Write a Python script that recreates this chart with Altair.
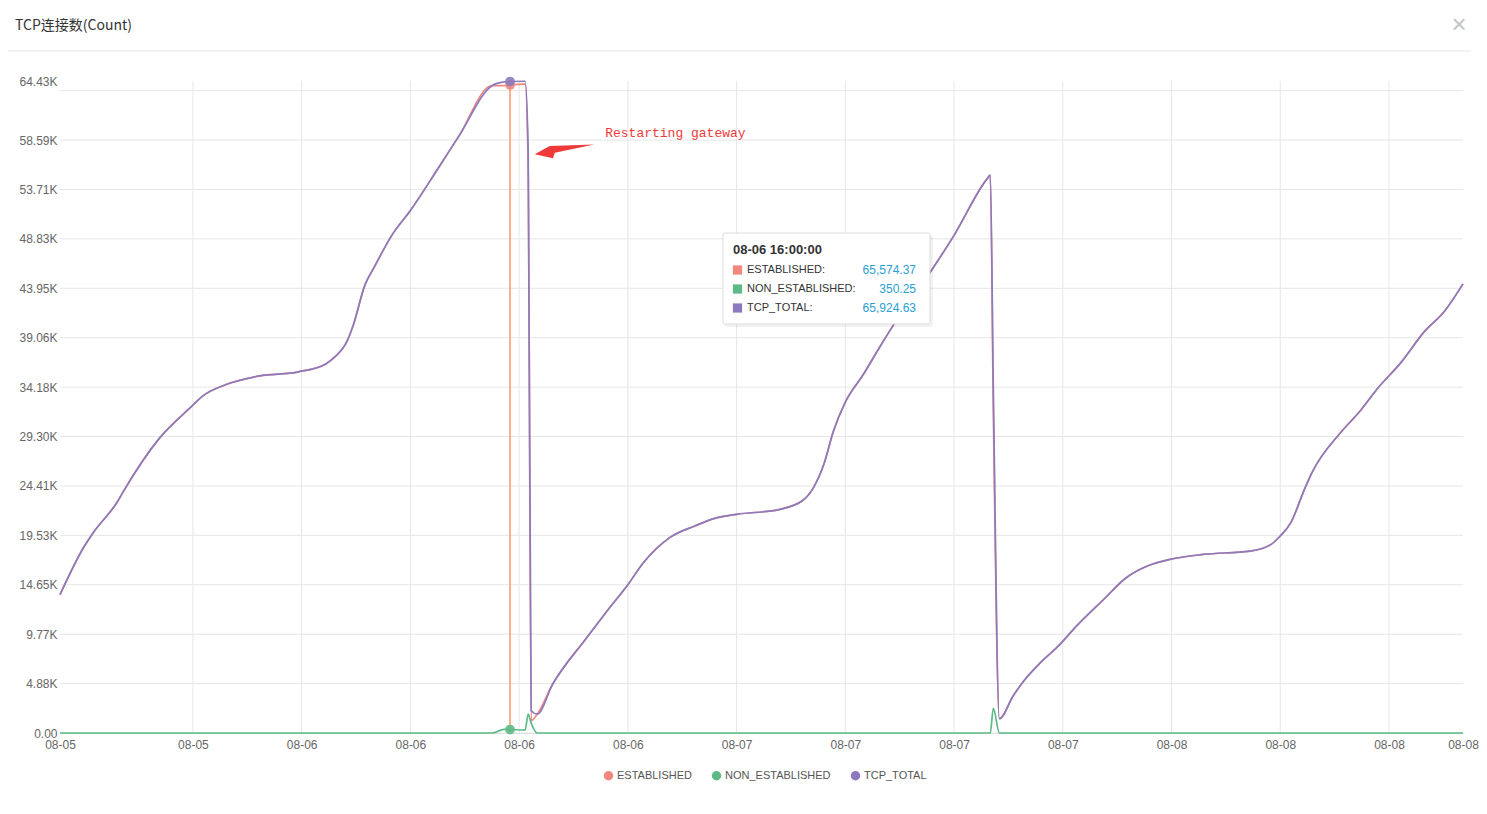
import altair as alt
import pandas as pd

# ---------------- data ----------------
times = [
    "2019-08-05 15:10", "2019-08-05 16:30", "2019-08-05 17:00", "2019-08-05 18:20",
    "2019-08-05 18:40", "2019-08-05 20:40", "2019-08-05 22:30", "2019-08-05 23:00",
    "2019-08-06 00:20", "2019-08-06 02:10", "2019-08-06 04:20", "2019-08-06 05:50",
    "2019-08-06 06:20", "2019-08-06 07:00", "2019-08-06 07:20", "2019-08-06 08:00",
    "2019-08-06 08:30", "2019-08-06 09:30", "2019-08-06 10:30", "2019-08-06 12:00",
    "2019-08-06 13:10", "2019-08-06 15:00", "2019-08-06 15:40", "2019-08-06 16:00",
    "2019-08-06 16:50", "2019-08-06 17:00", "2019-08-06 17:10", "2019-08-06 17:30",
    "2019-08-06 18:20", "2019-08-06 20:10", "2019-08-06 21:20", "2019-08-06 22:30",
    "2019-08-06 23:20",
    "2019-08-07 00:50", "2019-08-07 02:10", "2019-08-07 03:20", "2019-08-07 04:30",
    "2019-08-07 06:50", "2019-08-07 08:10", "2019-08-07 08:45", "2019-08-07 09:20",
    "2019-08-07 09:50", "2019-08-07 10:30", "2019-08-07 11:30", "2019-08-07 12:25",
    "2019-08-07 13:15", "2019-08-07 15:15", "2019-08-07 16:30", "2019-08-07 18:20",
    "2019-08-07 18:30", "2019-08-07 18:40", "2019-08-07 19:00", "2019-08-07 19:45",
    "2019-08-07 20:20", "2019-08-07 21:15", "2019-08-07 22:20", "2019-08-07 23:15",
    "2019-08-08 00:45", "2019-08-08 02:00", "2019-08-08 03:10", "2019-08-08 04:25",
    "2019-08-08 06:15", "2019-08-08 08:50", "2019-08-08 10:00", "2019-08-08 10:30",
    "2019-08-08 11:05", "2019-08-08 11:50", "2019-08-08 12:15", "2019-08-08 13:50",
    "2019-08-08 14:55", "2019-08-08 15:50", "2019-08-08 17:10", "2019-08-08 18:25",
    "2019-08-08 19:35", "2019-08-08 20:35",
]

tcp_total = [
    14000, 18870, 20270, 23400, 24450, 29860, 33170, 34040,
    35260, 36130, 36550, 37350, 38050, 39620, 41190, 45370,
    47120, 50430, 52870, 57050, 60370, 65500, 65880, 65924.63,
    65950, 59000, 2250, 1910, 4880, 9490, 12300, 15000,
    17180,
    19800, 20930, 21750, 22130, 22610, 23550, 24860, 27300,
    30490, 33490, 36300, 39110, 41550, 46800, 50360, 56100,
    56450, 35000, 1450, 3720, 5240, 7090, 8950, 10810,
    13510, 15710, 16890, 17570, 18070, 18410, 19090, 19930,
    21280, 24660, 26350, 30400, 32600, 34790, 37500, 40540,
    42730, 45450,
]

established = [
    14000, 18870, 20270, 23400, 24450, 29860, 33170, 34040,
    35260, 36130, 36550, 37350, 38050, 39620, 41190, 45370,
    47120, 50430, 52870, 57050, 60370, 65500, 65510, 65574.37,
    65650, 57100, 1250, 1910, 4880, 9490, 12300, 15000,
    17180,
    19800, 20930, 21750, 22130, 22610, 23550, 24860, 27300,
    30490, 33490, 36300, 39110, 41550, 46800, 50360, 56100,
    56450, 32500, 1450, 3720, 5240, 7090, 8950, 10810,
    13510, 15710, 16890, 17570, 18070, 18410, 19090, 19930,
    21280, 24660, 26350, 30400, 32600, 34790, 37500, 40540,
    42730, 45450,
]

non_established = [
    0, 0, 0, 0, 0, 0, 0, 0,
    0, 0, 0, 0, 0, 0, 0, 0,
    0, 0, 0, 0, 0, 0, 370, 350.25,
    300, 1900, 1000, 0, 0, 0, 0, 0,
    0,
    0, 0, 0, 0, 0, 0, 0, 0,
    0, 0, 0, 0, 0, 0, 0, 0,
    0, 2500, 0, 0, 0, 0, 0, 0,
    0, 0, 0, 0, 0, 0, 0, 0,
    0, 0, 0, 0, 0, 0, 0, 0,
    0, 0,
]

series_names = ["ESTABLISHED", "NON_ESTABLISHED", "TCP_TOTAL"]
series_colors = ["#f2877e", "#5dba87", "#8b7bbe"]

x_start = "2019-08-05 15:10"
x_end = "2019-08-08 20:35"
x_grid_times = [
    "2019-08-05 22:30", "2019-08-06 04:30", "2019-08-06 10:30", "2019-08-06 16:30",
    "2019-08-06 22:30", "2019-08-07 04:30", "2019-08-07 10:30", "2019-08-07 16:30",
    "2019-08-07 22:30", "2019-08-08 04:30", "2019-08-08 10:30", "2019-08-08 16:30",
]
y_max = 65976
y_grid_values = [0, 5000, 10000, 15000, 20000, 25000, 30000, 35000, 40000,
                 45000, 50000, 55000, 60000, 65000]
y_label_values = [0, 5000, 10000, 15000, 20000, 25000, 30000, 35000, 40000,
                  45000, 50000, 55000, 60000, y_max]

hover_time = "2019-08-06 16:00"
hover_title = "08-06 16:00:00"
note_text = "Restarting gateway"
note_time = "2019-08-06 21:15"
note_value = 60720
arrow_time = "2019-08-06 19:00"
arrow_value = 58860
chart_title = "TCP连接数(Count)"


def dt(s):
    d, h = s.split(" ")
    yy, mo, da = (int(v) for v in d.split("-"))
    hh, mm = (int(v) for v in h.split(":"))
    return alt.DateTime(year=yy, month=mo, date=da, hours=hh, minutes=mm)


# ---------------- tables ----------------
rows = []
for name, vals in zip(series_names, [established, non_established, tcp_total]):
    for t, v in zip(times, vals):
        rows.append({"t": t, "series": name, "value": v})
df = pd.DataFrame(rows)

hover_idx = times.index(hover_time)
hover_vals = {
    "ESTABLISHED": established[hover_idx],
    "NON_ESTABLISHED": non_established[hover_idx],
    "TCP_TOTAL": tcp_total[hover_idx],
}
df_hover = pd.DataFrame([{"t": hover_time, "series": k, "value": v} for k, v in hover_vals.items()])

df_xgrid = pd.DataFrame({"t": x_grid_times})
df_ygrid = pd.DataFrame({"value": y_grid_values})

FONT = "Liberation Sans"
CJK = "Noto Sans CJK SC"

x_enc = alt.X(
    "t:T",
    scale=alt.Scale(domain=[dt(x_start), dt(x_end)], nice=False),
    axis=alt.Axis(
        values=[dt(x_start)] + [dt(s) for s in x_grid_times] + [dt(x_end)],
        format="%m-%d", title=None, grid=False, ticks=False,
        domain=True, domainColor="#d9d9d9", labelFlush=False, labelOverlap=False,
        labelPadding=6, labelFont=FONT, labelFontSize=12, labelColor="#666666",
    ),
)
y_enc = alt.Y(
    "value:Q",
    scale=alt.Scale(domain=[0, y_max], nice=False, zero=True),
    axis=alt.Axis(
        values=y_label_values, title=None, grid=False, ticks=False, domain=False,
        labelExpr="datum.value == 0 ? '0.00' : format(datum.value / 1024, '.2f') + 'K'",
        labelPadding=3, labelFont=FONT, labelFontSize=12, labelColor="#666666",
        labelOverlap=False,
    ),
)

xgrid = alt.Chart(df_xgrid).mark_rule(color="#e6e6e6", strokeWidth=1).encode(x=x_enc)
ygrid = alt.Chart(df_ygrid).mark_rule(color="#e6e6e6", strokeWidth=1).encode(y=y_enc)

lines = alt.Chart(df).mark_line(strokeWidth=1.7, interpolate="monotone").encode(
    x=x_enc, y=y_enc,
    color=alt.Color("series:N", scale=alt.Scale(domain=series_names, range=series_colors),
                    legend=None),
    order=alt.Order("t:T"),
)

hover_rule = alt.Chart(pd.DataFrame({"t": [hover_time]})).mark_rule(
    color="#f6a06c", strokeWidth=1.6
).encode(x=x_enc, y=alt.value(0), y2=alt.value(652))

hover_dots = alt.Chart(df_hover).mark_circle(size=95, opacity=0.9).encode(
    x=x_enc, y=y_enc,
    color=alt.Color(
        "series:N", scale=alt.Scale(domain=series_names, range=series_colors),
        legend=alt.Legend(
            orient="none", legendX=543, legendY=689, direction="horizontal",
            title=None, symbolType="circle", symbolSize=90, symbolStrokeWidth=0,
            symbolOpacity=1,
            labelFont=FONT, labelFontSize=11, labelColor="#555555",
            labelOffset=3, columnPadding=19, padding=0,
        ),
    ),
)

note = alt.Chart(pd.DataFrame({"t": [note_time], "value": [note_value]})).mark_text(
    text=note_text, font="Liberation Mono", fontSize=13, color="#f03a3a",
    align="left", baseline="middle",
).encode(x=x_enc, y=y_enc)

arrow_path = "M-0.99,0.1 L-0.49,-0.18 L0.99,-0.23 L-0.32,0.05 L-0.38,0.23 Z"
arrow = alt.Chart(pd.DataFrame({"t": [arrow_time], "value": [arrow_value]})).mark_point(
    shape=arrow_path, size=3600, filled=True, color="#f03a3a", opacity=1, strokeWidth=0,
).encode(x=x_enc, y=y_enc)

# tooltip box (static)
tip_layers = [
    alt.Chart().mark_rect(fill="#000000", opacity=0.05, cornerRadius=3).encode(
        x=alt.value(664), x2=alt.value(873), y=alt.value(154), y2=alt.value(246)),
    alt.Chart().mark_rect(fill="#ffffff", stroke="#dcdcdc", strokeWidth=1, cornerRadius=2).encode(
        x=alt.value(663), x2=alt.value(870), y=alt.value(152), y2=alt.value(243)),
    alt.Chart().mark_text(text=hover_title, font=FONT, fontSize=13, fontWeight="bold",
                          color="#333333", align="left", baseline="middle").encode(
        x=alt.value(673), y=alt.value(169)),
]
for i, (name, col) in enumerate(zip(series_names, series_colors)):
    yy = 189 + 19 * i
    tip_layers.append(alt.Chart().mark_square(size=85, color=col, opacity=1).encode(
        x=alt.value(677.5), y=alt.value(yy)))
    tip_layers.append(alt.Chart().mark_text(
        text=name + ":", font=FONT, fontSize=11, color="#333333",
        align="left", baseline="middle").encode(x=alt.value(687), y=alt.value(yy)))
    tip_layers.append(alt.Chart().mark_text(
        text=f"{hover_vals[name]:,.2f}", font=FONT, fontSize=12, color="#2a9fd6",
        align="right", baseline="middle").encode(x=alt.value(856), y=alt.value(yy)))

# header
header = [
    alt.Chart().mark_text(text=chart_title, font=CJK, fontSize=14, color="#333333",
                          align="left", baseline="middle").encode(
        x=alt.value(-45), y=alt.value(-55)),
    alt.Chart().mark_rule(color="#e5e5e5", strokeWidth=1).encode(
        x=alt.value(-60), x2=alt.value(1411), y=alt.value(-30)),
    alt.Chart().mark_text(text="×", font=FONT, fontSize=26, color="#c4c4c4",
                          align="center", baseline="middle").encode(
        x=alt.value(1399), y=alt.value(-56)),
]

chart = alt.layer(
    xgrid, ygrid, lines, hover_rule, hover_dots, note, arrow, *tip_layers, *header
).resolve_scale(color="independent").properties(
    width=1403, height=652,
    padding={"left": 52, "top": 73, "right": 16, "bottom": 60},
    autosize="none",
    background="#ffffff",
).configure_view(strokeWidth=0, stroke="transparent")

chart.save("out.html", embed_options={"renderer": "svg", "actions": False})
